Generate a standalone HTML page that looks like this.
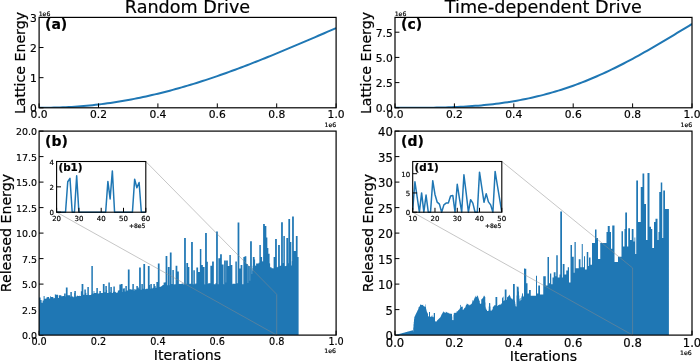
<!DOCTYPE html>
<html lang="en"><head><meta charset="utf-8"><title>Lattice and released energy</title>
<style>html,body{margin:0;padding:0;background:#fff}svg{display:block}</style></head>
<body>
<svg width="700" height="362" viewBox="0 0 700 362" font-family="'DejaVu Sans','Liberation Sans',sans-serif" fill="#000"><style>text{stroke:#000;stroke-width:0.18px}</style>
<rect width="700" height="362" fill="#fff"/>
<clipPath id="ca"><rect x="39.1" y="17.4" width="297.0" height="90.4"/></clipPath>
<g clip-path="url(#ca)">
<path d="M39.1 107.8L42.07 107.7L45.04 107.71L48.01 107.69L50.98 107.66L53.95 107.61L56.92 107.53L59.89 107.44L62.86 107.33L65.83 107.2L68.8 107.05L71.77 106.88L74.74 106.69L77.71 106.49L80.68 106.26L83.65 106.01L86.62 105.75L89.59 105.46L92.56 105.15L95.53 104.83L98.5 104.49L101.47 104.12L104.44 103.74L107.41 103.34L110.38 102.92L113.35 102.48L116.32 102.02L119.29 101.55L122.26 101.05L125.23 100.54L128.2 100.01L131.17 99.45L134.14 98.88L137.11 98.3L140.08 97.69L143.05 97.07L146.02 96.43L148.99 95.77L151.96 95.09L154.93 94.4L157.9 93.68L160.87 92.95L163.84 92.21L166.81 91.45L169.78 90.67L172.75 89.87L175.72 89.06L178.69 88.23L181.66 87.39L184.63 86.53L187.6 85.65L190.57 84.76L193.54 83.85L196.51 82.93L199.48 82L202.45 81.05L205.42 80.08L208.39 79.11L211.36 78.11L214.33 77.11L217.3 76.09L220.27 75.06L223.24 74.01L226.21 72.96L229.18 71.89L232.15 70.81L235.12 69.72L238.09 68.61L241.06 67.5L244.03 66.37L247 65.24L249.97 64.09L252.94 62.94L255.91 61.77L258.88 60.6L261.85 59.42L264.82 58.23L267.79 57.03L270.76 55.82L273.73 54.61L276.7 53.39L279.67 52.16L282.64 50.93L285.61 49.69L288.58 48.44L291.55 47.2L294.52 45.94L297.49 44.68L300.46 43.42L303.43 42.15L306.4 40.89L309.37 39.61L312.34 38.34L315.31 37.06L318.28 35.79L321.25 34.51L324.22 33.23L327.19 31.95L330.16 30.68L333.13 29.4L336.1 28.13" fill="none" stroke="#1f77b4" stroke-width="2.0" stroke-linejoin="round" stroke-linecap="butt"/>
</g>
<line x1="39.1" x2="39.1" y1="107.8" y2="103.4" stroke="#000" stroke-width="1.0"/>
<text x="39.1" y="117.73" font-size="10.7" text-anchor="middle">0.0</text>
<line x1="98.5" x2="98.5" y1="107.8" y2="103.4" stroke="#000" stroke-width="1.0"/>
<text x="98.5" y="117.73" font-size="10.7" text-anchor="middle">0.2</text>
<line x1="157.9" x2="157.9" y1="107.8" y2="103.4" stroke="#000" stroke-width="1.0"/>
<text x="157.9" y="117.73" font-size="10.7" text-anchor="middle">0.4</text>
<line x1="217.3" x2="217.3" y1="107.8" y2="103.4" stroke="#000" stroke-width="1.0"/>
<text x="217.3" y="117.73" font-size="10.7" text-anchor="middle">0.6</text>
<line x1="276.7" x2="276.7" y1="107.8" y2="103.4" stroke="#000" stroke-width="1.0"/>
<text x="276.7" y="117.73" font-size="10.7" text-anchor="middle">0.8</text>
<line x1="336.1" x2="336.1" y1="107.8" y2="103.4" stroke="#000" stroke-width="1.0"/>
<text x="336.1" y="117.73" font-size="10.7" text-anchor="middle">1.0</text>
<line x1="39.1" x2="43.5" y1="107.8" y2="107.8" stroke="#000" stroke-width="1.0"/>
<text x="36.9" y="112.47" font-size="10.7" text-anchor="end">0</text>
<line x1="39.1" x2="43.5" y1="77.67" y2="77.67" stroke="#000" stroke-width="1.0"/>
<text x="36.9" y="82.33" font-size="10.7" text-anchor="end">1</text>
<line x1="39.1" x2="43.5" y1="47.53" y2="47.53" stroke="#000" stroke-width="1.0"/>
<text x="36.9" y="52.2" font-size="10.7" text-anchor="end">2</text>
<line x1="39.1" x2="43.5" y1="17.4" y2="17.4" stroke="#000" stroke-width="1.0"/>
<text x="36.9" y="22.07" font-size="10.7" text-anchor="end">3</text>
<rect x="39.1" y="17.4" width="297" height="90.4" fill="none" stroke="#000" stroke-width="1.2"/>
<clipPath id="cc"><rect x="395.0" y="17.4" width="297.0" height="90.4"/></clipPath>
<g clip-path="url(#cc)">
<path d="M395 107.8L397.97 107.8L400.94 107.8L403.91 107.8L406.88 107.8L409.85 107.8L412.82 107.8L415.79 107.8L418.76 107.8L421.73 107.79L424.7 107.77L427.67 107.74L430.64 107.7L433.61 107.66L436.58 107.61L439.55 107.55L442.52 107.48L445.49 107.39L448.46 107.3L451.43 107.2L454.4 107.08L457.37 106.95L460.34 106.81L463.31 106.65L466.28 106.48L469.25 106.29L472.22 106.09L475.19 105.87L478.16 105.63L481.13 105.38L484.1 105.1L487.07 104.81L490.04 104.49L493.01 104.16L495.98 103.8L498.95 103.43L501.92 103.03L504.89 102.61L507.86 102.16L510.83 101.69L513.8 101.2L516.77 100.68L519.74 100.14L522.71 99.57L525.68 98.98L528.65 98.36L531.62 97.71L534.59 97.04L537.56 96.34L540.53 95.61L543.5 94.85L546.47 94.06L549.44 93.25L552.41 92.41L555.38 91.53L558.35 90.63L561.32 89.7L564.29 88.74L567.26 87.75L570.23 86.73L573.2 85.69L576.17 84.61L579.14 83.5L582.11 82.36L585.08 81.2L588.05 80L591.02 78.78L593.99 77.53L596.96 76.24L599.93 74.93L602.9 73.6L605.87 72.23L608.84 70.84L611.81 69.42L614.78 67.98L617.75 66.51L620.72 65.01L623.69 63.49L626.66 61.95L629.63 60.38L632.6 58.79L635.57 57.19L638.54 55.55L641.51 53.9L644.48 52.24L647.45 50.55L650.42 48.85L653.39 47.13L656.36 45.4L659.33 43.65L662.3 41.89L665.27 40.12L668.24 38.35L671.21 36.56L674.18 34.77L677.15 32.97L680.12 31.18L683.09 29.38L686.06 27.58L689.03 25.78L692 23.98" fill="none" stroke="#1f77b4" stroke-width="2.0" stroke-linejoin="round" stroke-linecap="butt"/>
</g>
<line x1="395" x2="395" y1="107.8" y2="103.4" stroke="#000" stroke-width="1.0"/>
<text x="395" y="117.73" font-size="10.7" text-anchor="middle">0.0</text>
<line x1="454.4" x2="454.4" y1="107.8" y2="103.4" stroke="#000" stroke-width="1.0"/>
<text x="454.4" y="117.73" font-size="10.7" text-anchor="middle">0.2</text>
<line x1="513.8" x2="513.8" y1="107.8" y2="103.4" stroke="#000" stroke-width="1.0"/>
<text x="513.8" y="117.73" font-size="10.7" text-anchor="middle">0.4</text>
<line x1="573.2" x2="573.2" y1="107.8" y2="103.4" stroke="#000" stroke-width="1.0"/>
<text x="573.2" y="117.73" font-size="10.7" text-anchor="middle">0.6</text>
<line x1="632.6" x2="632.6" y1="107.8" y2="103.4" stroke="#000" stroke-width="1.0"/>
<text x="632.6" y="117.73" font-size="10.7" text-anchor="middle">0.8</text>
<line x1="692" x2="692" y1="107.8" y2="103.4" stroke="#000" stroke-width="1.0"/>
<text x="692" y="117.73" font-size="10.7" text-anchor="middle">1.0</text>
<line x1="395.0" x2="399.4" y1="107.8" y2="107.8" stroke="#000" stroke-width="1.0"/>
<text x="392.8" y="112.47" font-size="10.7" text-anchor="end">0.0</text>
<line x1="395.0" x2="399.4" y1="82.6" y2="82.6" stroke="#000" stroke-width="1.0"/>
<text x="392.8" y="87.27" font-size="10.7" text-anchor="end">2.5</text>
<line x1="395.0" x2="399.4" y1="57.41" y2="57.41" stroke="#000" stroke-width="1.0"/>
<text x="392.8" y="62.08" font-size="10.7" text-anchor="end">5.0</text>
<line x1="395.0" x2="399.4" y1="32.21" y2="32.21" stroke="#000" stroke-width="1.0"/>
<text x="392.8" y="36.88" font-size="10.7" text-anchor="end">7.5</text>
<rect x="395.0" y="17.4" width="297" height="90.4" fill="none" stroke="#000" stroke-width="1.2"/>
<line x1="39.1" x2="39.1" y1="335.1" y2="330.7" stroke="#000" stroke-width="1.0"/>
<text x="39.1" y="345.27" font-size="9.7" text-anchor="middle">0.0</text>
<line x1="98.5" x2="98.5" y1="335.1" y2="330.7" stroke="#000" stroke-width="1.0"/>
<text x="98.5" y="345.27" font-size="9.7" text-anchor="middle">0.2</text>
<line x1="157.9" x2="157.9" y1="335.1" y2="330.7" stroke="#000" stroke-width="1.0"/>
<text x="157.9" y="345.27" font-size="9.7" text-anchor="middle">0.4</text>
<line x1="217.3" x2="217.3" y1="335.1" y2="330.7" stroke="#000" stroke-width="1.0"/>
<text x="217.3" y="345.27" font-size="9.7" text-anchor="middle">0.6</text>
<line x1="276.7" x2="276.7" y1="335.1" y2="330.7" stroke="#000" stroke-width="1.0"/>
<text x="276.7" y="345.27" font-size="9.7" text-anchor="middle">0.8</text>
<line x1="336.1" x2="336.1" y1="335.1" y2="330.7" stroke="#000" stroke-width="1.0"/>
<text x="336.1" y="345.27" font-size="9.7" text-anchor="middle">1.0</text>
<line x1="39.1" x2="43.5" y1="335.1" y2="335.1" stroke="#000" stroke-width="1.0"/>
<text x="36.9" y="339.29" font-size="9.45" text-anchor="end">0.0</text>
<line x1="39.1" x2="43.5" y1="309.6" y2="309.6" stroke="#000" stroke-width="1.0"/>
<text x="36.9" y="313.79" font-size="9.45" text-anchor="end">2.5</text>
<line x1="39.1" x2="43.5" y1="284.1" y2="284.1" stroke="#000" stroke-width="1.0"/>
<text x="36.9" y="288.29" font-size="9.45" text-anchor="end">5.0</text>
<line x1="39.1" x2="43.5" y1="258.6" y2="258.6" stroke="#000" stroke-width="1.0"/>
<text x="36.9" y="262.79" font-size="9.45" text-anchor="end">7.5</text>
<line x1="39.1" x2="43.5" y1="233.1" y2="233.1" stroke="#000" stroke-width="1.0"/>
<text x="36.9" y="237.29" font-size="9.45" text-anchor="end">10.0</text>
<line x1="39.1" x2="43.5" y1="207.6" y2="207.6" stroke="#000" stroke-width="1.0"/>
<text x="36.9" y="211.79" font-size="9.45" text-anchor="end">12.5</text>
<line x1="39.1" x2="43.5" y1="182.1" y2="182.1" stroke="#000" stroke-width="1.0"/>
<text x="36.9" y="186.29" font-size="9.45" text-anchor="end">15.0</text>
<line x1="39.1" x2="43.5" y1="156.6" y2="156.6" stroke="#000" stroke-width="1.0"/>
<text x="36.9" y="160.79" font-size="9.45" text-anchor="end">17.5</text>
<line x1="39.1" x2="43.5" y1="131.1" y2="131.1" stroke="#000" stroke-width="1.0"/>
<text x="36.9" y="135.29" font-size="9.45" text-anchor="end">20.0</text>
<path d="M39.1 335.1L39.1 297.42L40.6 297.42L40.6 299.92L41.6 299.92L41.6 302.77L42.6 302.77L42.6 300.41L43.6 300.41L43.6 296.11L43.85 296.11L43.85 296.1L44.1 296.1L44.1 296.08L44.35 296.08L44.35 296.07L44.6 296.07L44.6 298.68L44.85 298.68L44.85 298.66L45.1 298.66L45.1 298.65L45.35 298.65L45.35 298.64L45.6 298.64L45.6 298.63L45.85 298.63L45.85 298.61L46.1 298.61L46.1 298.6L46.35 298.6L46.35 298.59L46.6 298.59L46.6 297.17L46.85 297.17L46.85 297.16L47.1 297.16L47.1 297.15L47.35 297.15L47.35 297.13L47.6 297.13L47.6 297.12L47.85 297.12L47.85 297.11L48.1 297.11L48.1 297.09L48.35 297.09L48.35 297.08L48.6 297.08L48.6 297.07L48.85 297.07L48.85 297.06L49.1 297.06L49.1 298.45L49.35 298.45L49.35 298.43L49.6 298.43L49.6 298.42L49.85 298.42L49.85 298.41L50.1 298.41L50.1 296.18L50.35 296.18L50.35 296.16L50.6 296.16L50.6 296.15L50.85 296.15L50.85 296.94L51.1 296.94L51.1 296.93L51.35 296.93L51.35 296.92L51.6 296.92L51.6 296.9L51.85 296.9L51.85 297.09L52.1 297.09L52.1 297.07L52.35 297.07L52.35 297.06L52.6 297.06L52.6 297.05L52.85 297.05L52.85 297.03L53.1 297.03L53.1 297.02L53.35 297.02L53.35 298.18L53.6 298.18L53.6 298.16L53.85 298.16L53.85 298.15L54.1 298.15L54.1 298.14L54.35 298.14L54.35 298.12L54.6 298.12L54.6 298.11L54.85 298.11L54.85 294.28L55.1 294.28L55.1 294.27L55.35 294.27L55.35 294.25L55.6 294.25L55.6 294.79L55.85 294.79L55.85 294.78L56.1 294.78L56.1 294.77L56.35 294.77L56.35 294.75L56.6 294.75L56.6 294.74L56.85 294.74L56.85 294.73L57.1 294.73L57.1 294.72L57.35 294.72L57.35 294.7L57.6 294.7L57.6 294.69L57.85 294.69L57.85 294.68L58.1 294.68L58.1 297.97L58.35 297.97L58.35 297.95L58.6 297.95L58.6 297.94L58.85 297.94L58.85 295.31L59.1 295.31L59.1 295.29L59.35 295.29L59.35 295.28L59.6 295.28L59.6 295.27L59.85 295.27L59.85 295.26L60.1 295.26L60.1 295.24L60.35 295.24L60.35 295.23L60.6 295.23L60.6 295.22L60.85 295.22L60.85 295.21L61.1 295.21L61.1 295.19L61.35 295.19L61.35 296.23L61.6 296.23L61.6 296.21L61.85 296.21L61.85 296.2L62.1 296.2L62.1 296.15L62.35 296.15L62.35 296.13L62.6 296.13L62.6 296.12L62.85 296.12L62.85 296.11L63.1 296.11L63.1 296.1L63.35 296.1L63.35 296.08L63.6 296.08L63.6 296.07L63.85 296.07L63.85 296.06L64.1 296.06L64.1 293.5L64.35 293.5L64.35 293.49L64.6 293.49L64.6 293.48L64.85 293.48L64.85 293.47L65.1 293.47L65.1 293.45L65.35 293.45L65.35 293.43L65.6 293.43L65.6 296.4L65.85 296.4L65.85 287.4L67.6 287.4L67.6 295.29L67.85 295.29L67.85 295.27L68.1 295.27L68.1 295.25L68.35 295.25L68.35 295.24L68.6 295.24L68.6 295.22L68.85 295.22L68.85 295.2L69.1 295.2L69.1 295.18L69.35 295.18L69.35 295.17L69.6 295.17L69.6 295.15L69.85 295.15L69.85 295.13L70.1 295.13L70.1 296.7L70.35 296.7L70.35 292L71.85 292L71.85 296.58L72.1 296.58L72.1 296.56L72.35 296.56L72.35 296.54L72.6 296.54L72.6 296.53L72.85 296.53L72.85 296.51L73.1 296.51L73.1 296.49L73.35 296.49L73.35 297.21L73.6 297.21L73.6 297.19L73.85 297.19L73.85 297.18L74.1 297.18L74.1 293.05L74.35 293.05L74.35 291L75.85 291L75.85 296.5L76.1 296.5L76.1 296.47L76.35 296.47L76.35 296.44L76.6 296.44L76.6 296.41L76.85 296.41L76.85 295.48L77.1 295.48L77.1 295.45L77.35 295.45L77.35 295.42L77.6 295.42L77.6 296.11L77.85 296.11L77.85 296.08L78.1 296.08L78.1 296.05L78.35 296.05L78.35 296.02L78.6 296.02L78.6 295.99L78.85 295.99L78.85 295.96L79.1 295.96L79.1 295.77L79.35 295.77L79.35 295.74L79.6 295.74L79.6 295.71L79.85 295.71L79.85 296.15L80.1 296.15L80.1 296.12L80.35 296.12L80.35 296.09L80.6 296.09L80.6 296.06L80.85 296.06L80.85 291.35L81.1 291.35L81.1 291.32L81.35 291.32L81.35 291.29L81.6 291.29L81.6 284L83.35 284L83.35 294.75L83.6 294.75L83.6 294.72L83.85 294.72L83.85 294.69L84.1 294.69L84.1 294.66L84.35 294.66L84.35 289.4L85.85 289.4L85.85 292.88L86.1 292.88L86.1 292.85L86.35 292.85L86.35 295.1L86.6 295.1L86.6 295.07L86.85 295.07L86.85 295.03L87.1 295.03L87.1 295L87.35 295L87.35 287L88.85 287L88.85 294.63L89.1 294.63L89.1 295.15L89.35 295.15L89.35 295.12L89.6 295.12L89.6 295.08L89.85 295.08L89.85 295.05L90.1 295.05L90.1 295.01L90.35 295.01L90.35 294.98L90.6 294.98L90.6 294.94L90.85 294.94L90.85 294.91L91.1 294.91L91.1 294.2L91.35 294.2L91.35 266L92.85 266L92.85 293.61L93.1 293.61L93.1 293.57L93.35 293.57L93.35 293.54L93.6 293.54L93.6 291.11L93.85 291.11L93.85 291.08L94.1 291.08L94.1 291.04L94.35 291.04L94.35 293.09L94.6 293.09L94.6 293.06L94.85 293.06L94.85 293.02L95.1 293.02L95.1 292.99L95.35 292.99L95.35 292.95L95.6 292.95L95.6 292.92L95.85 292.92L95.85 292.88L96.1 292.88L96.1 292.85L96.35 292.85L96.35 288L97.85 288L97.85 293.53L98.1 293.53L98.1 293.49L98.35 293.49L98.35 293.46L98.6 293.46L98.6 293.42L98.85 293.42L98.85 293.39L99.1 293.39L99.1 293.35L99.35 293.35L99.35 291L100.85 291L100.85 293.08L101.1 293.08L101.1 293.04L101.35 293.04L101.35 293.01L101.6 293.01L101.6 292.97L101.85 292.97L101.85 293.12L102.1 293.12L102.1 293.08L102.35 293.08L102.35 293.05L102.6 293.05L102.6 293.01L102.85 293.01L102.85 284L104.6 284L104.6 292.21L104.85 292.21L104.85 292.18L105.1 292.18L105.1 292.16L105.35 292.16L105.35 286L106.85 286L106.85 289.91L107.1 289.91L107.1 293.01L108.35 293.01L108.35 282.4L109.85 282.4L109.85 292.26L110.35 292.26L110.35 287L111.85 287L111.85 292.97L112.85 292.97L112.85 291.8L113.35 291.8L113.35 286.4L114.85 286.4L114.85 291.89L115.1 291.89L115.1 291.88L115.35 291.88L115.35 291.85L115.6 291.85L115.6 291.82L115.85 291.82L115.85 292.74L116.1 292.74L116.1 292.71L116.35 292.71L116.35 292.68L116.6 292.68L116.6 292.65L116.85 292.65L116.85 292.63L117.1 292.63L117.1 292.6L117.35 292.6L117.35 292.57L117.6 292.57L117.6 292.54L117.85 292.54L117.85 290.47L118.1 290.47L118.1 290.44L118.35 290.44L118.35 290.41L118.6 290.41L118.6 290.39L118.85 290.39L118.85 290.36L119.1 290.36L119.1 290.33L119.35 290.33L119.35 284.6L120.85 284.6L120.85 284L122.6 284L122.6 291.89L122.85 291.89L122.85 288.5L123.1 288.5L123.1 288.47L123.35 288.47L123.35 288.45L123.6 288.45L123.6 288.42L123.85 288.42L123.85 288.39L124.1 288.39L124.1 288.36L124.35 288.36L124.35 288.34L124.6 288.34L124.6 288.31L124.85 288.31L124.85 291.5L125.1 291.5L125.1 291.47L125.35 291.47L125.35 286L126.85 286L126.85 290.52L127.1 290.52L127.1 290.49L127.35 290.49L127.35 290.45L127.6 290.45L127.6 290.41L127.85 290.41L127.85 269.4L129.6 269.4L129.6 289.32L129.85 289.32L129.85 289.28L130.1 289.28L130.1 289.25L130.35 289.25L130.35 289.21L130.6 289.21L130.6 289.17L130.85 289.17L130.85 289.13L131.1 289.13L131.1 289.1L131.35 289.1L131.35 289.74L131.6 289.74L131.6 289.7L131.85 289.7L131.85 289.66L132.1 289.66L132.1 289.62L132.35 289.62L132.35 284L133.85 284L133.85 290.47L134.1 290.47L134.1 290.43L134.35 290.43L134.35 289.07L134.6 289.07L134.6 289.03L134.85 289.03L134.85 288.99L135.1 288.99L135.1 288.96L135.35 288.96L135.35 289.66L135.6 289.66L135.6 289.63L135.85 289.63L135.85 289.61L136.1 289.61L136.1 289.58L136.35 289.58L136.35 286L137.85 286L137.85 287.63L138.1 287.63L138.1 287.61L138.35 287.61L138.35 287.58L138.6 287.58L138.6 287.56L138.85 287.56L138.85 289.24L139.1 289.24L139.1 267.4L140.85 267.4L140.85 289.83L141.1 289.83L141.1 289.8L141.35 289.8L141.35 284L142.85 284L142.85 288.68L143.1 288.68L143.1 288.66L143.35 288.66L143.35 264L145.1 264L145.1 289.17L145.35 289.17L145.35 289.14L145.6 289.14L145.6 289.1L145.85 289.1L145.85 288.9L146.1 288.9L146.1 288.86L146.35 288.86L146.35 288.82L146.6 288.82L146.6 288.79L146.85 288.79L146.85 288.75L147.1 288.75L147.1 288.71L147.35 288.71L147.35 288.67L147.6 288.67L147.6 288.64L147.85 288.64L147.85 266L149.6 266L149.6 285.07L149.85 285.07L149.85 285.03L150.1 285.03L150.1 288.72L150.35 288.72L150.35 284L151.85 284L151.85 288.46L152.1 288.46L152.1 288.42L152.35 288.42L152.35 288.38L152.6 288.38L152.6 287.77L152.85 287.77L152.85 287.73L153.1 287.73L153.1 287.69L153.35 287.69L153.35 284L154.85 284L154.85 285.98L155.1 285.98L155.1 285.94L155.35 285.94L155.35 285.9L155.6 285.9L155.6 287.74L155.85 287.74L155.85 287.71L156.1 287.71L156.1 287.67L156.35 287.67L156.35 282L157.85 282L157.85 263.6L159.6 263.6L159.6 286.89L159.85 286.89L159.85 286.85L160.1 286.85L160.1 286.81L160.35 286.81L160.35 286.78L160.6 286.78L160.6 286.74L160.85 286.74L160.85 286.7L161.1 286.7L161.1 286.19L161.35 286.19L161.35 286.15L161.6 286.15L161.6 286.11L161.85 286.11L161.85 286.08L162.1 286.08L162.1 286.04L162.35 286.04L162.35 285L163.6 285L163.6 282.58L163.85 282.58L163.85 282.54L164.1 282.54L164.1 282.5L164.35 282.5L164.35 282.46L164.6 282.46L164.6 282.43L164.85 282.43L164.85 282.39L165.1 282.39L165.1 282.35L165.35 282.35L165.35 282.29L165.6 282.29L165.6 256L167.35 256L167.35 285.26L167.6 285.26L167.6 285.21L167.85 285.21L167.85 267L169.6 267L169.6 285.37L169.85 285.37L169.85 252.6L171.6 252.6L171.6 284.01L171.85 284.01L171.85 283.96L172.1 283.96L172.1 283.92L172.35 283.92L172.35 270L173.85 270L173.85 284.4L174.1 284.4L174.1 284.38L174.35 284.38L174.35 284.37L174.6 284.37L174.6 284.35L174.85 284.35L174.85 284.34L175.1 284.34L175.1 284.32L175.35 284.32L175.35 284.31L175.6 284.31L175.6 265.7L177.35 265.7L177.35 271.4L178.85 271.4L178.85 283.91L179.1 283.91L179.1 283.89L179.35 283.89L179.35 283.88L179.6 283.88L179.6 283.86L179.85 283.86L179.85 283.85L180.1 283.85L180.1 283.92L181.6 283.92L181.6 283.4L183.6 283.4L183.6 284.39L184.1 284.39L184.1 238L185.85 238L185.85 283.75L186.35 283.75L186.35 262.9L188.1 262.9L188.1 266.9L189.35 266.9L189.35 283.91L189.6 283.91L189.6 283.72L191.1 283.72L191.1 242L192.85 242L192.85 284.3L193.35 284.3L193.35 270.3L194.85 270.3L194.85 284.3L195.35 284.3L195.35 283.47L196.35 283.47L196.35 267.4L198.1 267.4L198.1 272L199.85 272L199.85 249L201.35 249L201.35 265L202.85 265L202.85 266.9L204.6 266.9L204.6 284.15L204.85 284.15L204.85 284.39L205.1 284.39L205.1 233L206.85 233L206.85 261.7L207.85 261.7L207.85 284.09L208.35 284.09L208.35 283.02L209.1 283.02L209.1 283.29L210.35 283.29L210.35 265.7L212.1 265.7L212.1 261.5L213.85 261.5L213.85 284.21L215.6 284.21L215.6 282.97L216.1 282.97L216.1 231.6L217.85 231.6L217.85 284.25L218.35 284.25L218.35 258.3L220.1 258.3L220.1 254.3L221.85 254.3L221.85 264.6L223.6 264.6L223.6 284L223.85 284L223.85 284.39L224.1 284.39L224.1 260.6L225.85 260.6L225.85 282.52L226.1 282.52L226.1 260.6L227.85 260.6L227.85 266L229.35 266L229.35 255L230.85 255L230.85 265L232.35 265L232.35 284.34L232.6 284.34L232.6 283.78L235.1 283.78L235.1 284.1L235.35 284.1L235.35 261.5L236.85 261.5L236.85 283.16L237.6 283.16L237.6 222.4L239.35 222.4L239.35 268.5L240.6 268.5L240.6 265L242.35 265L242.35 284.22L243.1 284.22L243.1 284.26L243.35 284.26L243.35 257L244.6 257L244.6 256.2L246.35 256.2L246.35 264L247.85 264L247.85 282.89L248.1 282.89L248.1 266L249.85 266L249.85 280.85L250.1 280.85L250.1 241.3L251.85 241.3L251.85 273.97L252.1 273.97L252.1 270.47L252.35 270.47L252.35 268L252.6 268L252.6 265.63L252.85 265.63L252.85 257L254.6 257L254.6 259.53L254.85 259.53L254.85 259.55L255.1 259.55L255.1 265.61L255.35 265.61L255.35 265.62L255.6 265.62L255.6 265.64L255.85 265.64L255.85 265.65L256.1 265.65L256.1 263.43L256.35 263.43L256.35 263.45L256.6 263.45L256.6 263.46L256.85 263.46L256.85 263.48L257.1 263.48L257.1 263.49L257.35 263.49L257.35 263.51L257.6 263.51L257.6 263.53L257.85 263.53L257.85 263.54L258.1 263.54L258.1 263.56L258.35 263.56L258.35 263.57L258.6 263.57L258.6 262.82L258.85 262.82L258.85 262.83L259.1 262.83L259.1 262.85L259.35 262.85L259.35 245L260.85 245L260.85 257L262.1 257L262.1 261.14L262.35 261.14L262.35 261.28L262.6 261.28L262.6 261.42L262.85 261.42L262.85 261.56L263.1 261.56L263.1 223.9L264.85 223.9L264.85 226.1L266.35 226.1L266.35 237.6L267.35 237.6L267.35 248L268.35 248L268.35 253.7L269.6 253.7L269.6 263.27L269.85 263.27L269.85 263.41L270.1 263.41L270.1 267.23L270.35 267.23L270.35 267.26L270.6 267.26L270.6 267.3L270.85 267.3L270.85 267.33L271.1 267.33L271.1 267.37L271.35 267.37L271.35 267.4L271.6 267.4L271.6 268.14L271.85 268.14L271.85 268.18L272.1 268.18L272.1 268.21L272.35 268.21L272.35 268.25L272.6 268.25L272.6 268.28L272.85 268.28L272.85 268.32L273.1 268.32L273.1 268.36L273.35 268.36L273.35 268.39L273.6 268.39L273.6 257L275.1 257L275.1 239L276.85 239L276.85 267.25L277.1 267.25L277.1 267.24L277.35 267.24L277.35 267.14L277.6 267.14L277.6 266.73L277.85 266.73L277.85 266.63L278.1 266.63L278.1 245L279.85 245L279.85 265.91L280.1 265.91L280.1 265.82L280.35 265.82L280.35 265.72L280.6 265.72L280.6 265.63L280.85 265.63L280.85 265.53L281.1 265.53L281.1 222.3L282.85 222.3L282.85 263.16L283.1 263.16L283.1 263.07L283.35 263.07L283.35 236.1L284.85 236.1L284.85 266.3L285.1 266.3L285.1 266.21L285.35 266.21L285.35 266.12L285.6 266.12L285.6 266.03L285.85 266.03L285.85 265.94L286.1 265.94L286.1 265.85L286.35 265.85L286.35 238.1L288.1 238.1L288.1 263.17L288.35 263.17L288.35 218.9L290.1 218.9L290.1 242L291.35 242L291.35 265.57L291.6 265.57L291.6 265.48L291.85 265.48L291.85 261.16L292.1 261.16L292.1 216.4L293.85 216.4L293.85 251L295.85 251L295.85 236.1L297.6 236.1L297.6 257L298.6 257L298.6 335.1Z" fill="#1f77b4"/>
<path d="M145.8 161.5L276.7 294.3L276.7 335.1L56.6 212.2" fill="none" stroke="#8a8a8a" stroke-opacity="0.62" stroke-width="0.8"/>
<rect x="39.1" y="131.1" width="297" height="204" fill="none" stroke="#000" stroke-width="1.2"/>
<rect x="56.6" y="161.5" width="89.2" height="50.7" fill="#fff"/>
<clipPath id="cb1"><rect x="56.6" y="161.5" width="89.2" height="51.7"/></clipPath>
<g clip-path="url(#cb1)">
<path d="M56.6 212.2L65.52 212.2L67.75 181.78L69.98 178.36L72.21 212.2L74.44 212.2L76.67 175.7L78.9 212.2L105.66 212.2L107.89 181.4L110.12 198.89L112.35 170.88L114.58 212.2L132.42 212.2L134.65 179.25L136.88 187.74L139.11 182.54L141.34 212.2L145.8 212.2" fill="none" stroke="#1f77b4" stroke-width="1.5" stroke-linejoin="round" stroke-linecap="butt"/>
</g>
<line x1="56.6" x2="56.6" y1="212.2" y2="207.8" stroke="#000" stroke-width="1.0"/>
<text x="56.6" y="220.52" font-size="7.0" text-anchor="middle">20</text>
<line x1="78.9" x2="78.9" y1="212.2" y2="207.8" stroke="#000" stroke-width="1.0"/>
<text x="78.9" y="220.52" font-size="7.0" text-anchor="middle">30</text>
<line x1="101.2" x2="101.2" y1="212.2" y2="207.8" stroke="#000" stroke-width="1.0"/>
<text x="101.2" y="220.52" font-size="7.0" text-anchor="middle">40</text>
<line x1="123.5" x2="123.5" y1="212.2" y2="207.8" stroke="#000" stroke-width="1.0"/>
<text x="123.5" y="220.52" font-size="7.0" text-anchor="middle">50</text>
<line x1="145.8" x2="145.8" y1="212.2" y2="207.8" stroke="#000" stroke-width="1.0"/>
<text x="145.8" y="220.52" font-size="7.0" text-anchor="middle">60</text>
<line x1="56.6" x2="61" y1="212.2" y2="212.2" stroke="#000" stroke-width="1.0"/>
<text x="54" y="215.46" font-size="7.0" text-anchor="end">0</text>
<line x1="56.6" x2="61" y1="186.85" y2="186.85" stroke="#000" stroke-width="1.0"/>
<text x="54" y="190.11" font-size="7.0" text-anchor="end">2</text>
<line x1="56.6" x2="61" y1="161.5" y2="161.5" stroke="#000" stroke-width="1.0"/>
<text x="54" y="164.76" font-size="7.0" text-anchor="end">4</text>
<rect x="56.6" y="161.5" width="89.2" height="50.7" fill="none" stroke="#000" stroke-width="1.1"/>
<text x="145.5" y="228.4" font-size="6.1" text-anchor="end">+8e5</text>
<text x="58.4" y="171.1" font-size="10.4" font-weight="bold">(b1)</text>
<line x1="395" x2="395" y1="335.1" y2="330.7" stroke="#000" stroke-width="1.0"/>
<text x="395" y="347.32" font-size="11.6" text-anchor="middle">0.0</text>
<line x1="454.4" x2="454.4" y1="335.1" y2="330.7" stroke="#000" stroke-width="1.0"/>
<text x="454.4" y="347.32" font-size="11.6" text-anchor="middle">0.2</text>
<line x1="513.8" x2="513.8" y1="335.1" y2="330.7" stroke="#000" stroke-width="1.0"/>
<text x="513.8" y="347.32" font-size="11.6" text-anchor="middle">0.4</text>
<line x1="573.2" x2="573.2" y1="335.1" y2="330.7" stroke="#000" stroke-width="1.0"/>
<text x="573.2" y="347.32" font-size="11.6" text-anchor="middle">0.6</text>
<line x1="632.6" x2="632.6" y1="335.1" y2="330.7" stroke="#000" stroke-width="1.0"/>
<text x="632.6" y="347.32" font-size="11.6" text-anchor="middle">0.8</text>
<line x1="692" x2="692" y1="335.1" y2="330.7" stroke="#000" stroke-width="1.0"/>
<text x="692" y="347.32" font-size="11.6" text-anchor="middle">1.0</text>
<line x1="395.0" x2="399.4" y1="335.1" y2="335.1" stroke="#000" stroke-width="1.0"/>
<text x="392.8" y="340.11" font-size="11.6" text-anchor="end">0</text>
<line x1="395.0" x2="399.4" y1="309.6" y2="309.6" stroke="#000" stroke-width="1.0"/>
<text x="392.8" y="314.61" font-size="11.6" text-anchor="end">5</text>
<line x1="395.0" x2="399.4" y1="284.1" y2="284.1" stroke="#000" stroke-width="1.0"/>
<text x="392.8" y="289.11" font-size="11.6" text-anchor="end">10</text>
<line x1="395.0" x2="399.4" y1="258.6" y2="258.6" stroke="#000" stroke-width="1.0"/>
<text x="392.8" y="263.61" font-size="11.6" text-anchor="end">15</text>
<line x1="395.0" x2="399.4" y1="233.1" y2="233.1" stroke="#000" stroke-width="1.0"/>
<text x="392.8" y="238.11" font-size="11.6" text-anchor="end">20</text>
<line x1="395.0" x2="399.4" y1="207.6" y2="207.6" stroke="#000" stroke-width="1.0"/>
<text x="392.8" y="212.61" font-size="11.6" text-anchor="end">25</text>
<line x1="395.0" x2="399.4" y1="182.1" y2="182.1" stroke="#000" stroke-width="1.0"/>
<text x="392.8" y="187.11" font-size="11.6" text-anchor="end">30</text>
<line x1="395.0" x2="399.4" y1="156.6" y2="156.6" stroke="#000" stroke-width="1.0"/>
<text x="392.8" y="161.61" font-size="11.6" text-anchor="end">35</text>
<line x1="395.0" x2="399.4" y1="131.1" y2="131.1" stroke="#000" stroke-width="1.0"/>
<text x="392.8" y="136.11" font-size="11.6" text-anchor="end">40</text>
<path d="M395 335.1L395 335.1L395.25 335.1L395.25 335.03L395.5 335.03L395.5 334.96L395.75 334.96L395.75 334.89L396 334.89L396 334.83L396.25 334.83L396.25 334.76L396.5 334.76L396.5 334.69L396.75 334.69L396.75 334.62L397 334.62L397 334.55L397.25 334.55L397.25 334.48L397.5 334.48L397.5 334.42L397.75 334.42L397.75 334.35L398 334.35L398 334.28L398.25 334.28L398.25 334.21L398.5 334.21L398.5 334.14L398.75 334.14L398.75 334.07L399 334.07L399 334.01L399.25 334.01L399.25 333.94L399.5 333.94L399.5 333.87L399.75 333.87L399.75 333.8L400 333.8L400 333.73L400.25 333.73L400.25 333.66L400.5 333.66L400.5 333.59L400.75 333.59L400.75 333.53L401 333.53L401 333.46L401.25 333.46L401.25 333.39L401.5 333.39L401.5 333.32L401.75 333.32L401.75 333.25L402 333.25L402 333.18L402.25 333.18L402.25 333.12L402.5 333.12L402.5 333.05L402.75 333.05L402.75 332.98L403 332.98L403 332.91L403.25 332.91L403.25 332.84L403.5 332.84L403.5 332.77L403.75 332.77L403.75 332.7L404 332.7L404 332.64L404.25 332.64L404.25 332.57L404.5 332.57L404.5 332.5L404.75 332.5L404.75 332.43L405 332.43L405 332.36L405.25 332.36L405.25 332.29L405.5 332.29L405.5 332.23L405.75 332.23L405.75 332.16L406 332.16L406 332.09L406.25 332.09L406.25 332.02L406.5 332.02L406.5 331.95L406.75 331.95L406.75 331.88L407 331.88L407 331.82L407.25 331.82L407.25 331.75L407.5 331.75L407.5 331.68L407.75 331.68L407.75 331.61L408 331.61L408 331.54L408.25 331.54L408.25 331.47L408.5 331.47L408.5 331.4L408.75 331.4L408.75 331.34L409 331.34L409 331.27L409.25 331.27L409.25 331.2L409.5 331.2L409.5 331.13L409.75 331.13L409.75 331.06L410 331.06L410 330.99L410.25 330.99L410.25 330.93L410.5 330.93L410.5 330.86L410.75 330.86L410.75 330.79L411 330.79L411 330.72L411.25 330.72L411.25 330.65L411.5 330.65L411.5 330.58L411.75 330.58L411.75 330.51L412 330.51L412 330.45L412.25 330.45L412.25 330.38L412.5 330.38L412.5 330.31L412.75 330.31L412.75 330.24L413 330.24L413 331.57L413.25 331.57L413.25 327.4L413.5 327.4L413.5 324.29L413.75 324.29L413.75 321.79L414 321.79L414 319.29L414.25 319.29L414.25 317.24L414.5 317.24L414.5 316.66L414.75 316.66L414.75 316.07L415 316.07L415 315.68L415.25 315.68L415.25 315.1L415.5 315.1L415.5 314.51L415.75 314.51L415.75 313.93L416 313.93L416 313.57L416.25 313.57L416.25 312.99L416.5 312.99L416.5 312.41L416.75 312.41L416.75 311.96L417 311.96L417 311.38L417.25 311.38L417.25 310.8L417.5 310.8L417.5 310.21L417.75 310.21L417.75 310.14L418 310.14L418 309.44L418.25 309.44L418.25 308.74L418.5 308.74L418.5 307.56L418.75 307.56L418.75 306.94L419 306.94L419 306.77L419.25 306.77L419.25 306.6L419.5 306.6L419.5 306.44L419.75 306.44L419.75 306.27L420 306.27L420 304.65L420.25 304.65L420.25 304.49L420.5 304.49L420.5 304.35L420.75 304.35L420.75 304.97L421 304.97L421 304.9L421.25 304.9L421.25 304.83L421.5 304.83L421.5 304.76L421.75 304.76L421.75 305.11L422 305.11L422 305.04L422.25 305.04L422.25 304.97L422.5 304.97L422.5 304.9L422.75 304.9L422.75 304.83L423 304.83L423 304.76L423.25 304.76L423.25 305.98L423.5 305.98L423.5 306.05L423.75 306.05L423.75 306.15L424 306.15L424 306.25L424.25 306.25L424.25 306.44L424.5 306.44L424.5 306.54L424.75 306.54L424.75 306.64L425 306.64L425 306.73L425.25 306.73L425.25 304.08L425.5 304.08L425.5 305.31L425.75 305.31L425.75 307.21L426 307.21L426 308.8L426.25 308.8L426.25 309.8L426.5 309.8L426.5 310.8L426.75 310.8L426.75 311.73L427 311.73L427 312.23L427.25 312.23L427.25 312.69L427.5 312.69L427.5 313.19L427.75 313.19L427.75 313.69L428 313.69L428 316.07L428.25 316.07L428.25 316.29L428.5 316.29L428.5 316.51L428.75 316.51L428.75 316.73L429 316.73L429 311.9L430 311.9L430 316.7L430.25 316.7L430.25 316.74L430.5 316.74L430.5 316.77L430.75 316.77L430.75 316.81L431 316.81L431 316.43L431.25 316.43L431.25 316.47L431.5 316.47L431.5 316.51L431.75 316.51L431.75 315.54L432 315.54L432 315.57L432.25 315.57L432.25 315.61L432.5 315.61L432.5 316.9L432.75 316.9L432.75 317.03L433 317.03L433 317.15L433.25 317.15L433.25 317.28L433.5 317.28L433.5 316.46L433.75 316.46L433.75 313.1L435 313.1L435 321.07L435.5 321.07L435.5 321.87L436 321.87L436 321.73L436.25 321.73L436.25 321.48L436.5 321.48L436.5 321.23L436.75 321.23L436.75 320.98L437 320.98L437 320.42L437.25 320.42L437.25 320.17L437.5 320.17L437.5 319.92L437.75 319.92L437.75 319.67L438 319.67L438 319.42L438.25 319.42L438.25 319.17L438.5 319.17L438.5 318.92L438.75 318.92L438.75 318.67L439 318.67L439 318.62L439.25 318.62L439.25 318.37L439.5 318.37L439.5 318.12L439.75 318.12L439.75 317.87L440 317.87L440 317.62L440.25 317.62L440.25 317.37L440.5 317.37L440.5 316.79L440.75 316.79L440.75 316.21L441 316.21L441 315.63L441.25 315.63L441.25 315.04L441.5 315.04L441.5 314.46L441.75 314.46L441.75 313.88L442 313.88L442 313.73L442.25 313.73L442.25 313.25L442.5 313.25L442.5 312.92L442.75 312.92L442.75 312.29L443 312.29L443 311.96L443.25 311.96L443.25 311.62L443.5 311.62L443.5 311.29L443.75 311.29L443.75 312.22L444 312.22L444 312.16L444.25 312.16L444.25 312.29L444.5 312.29L444.5 312.42L444.75 312.42L444.75 312.56L445 312.56L445 312.69L445.25 312.69L445.25 312.82L445.5 312.82L445.5 312.96L445.75 312.96L445.75 311.66L446 311.66L446 311.78L446.25 311.78L446.25 311.9L446.5 311.9L446.5 312.24L446.75 312.24L446.75 312.36L447 312.36L447 312.47L447.25 312.47L447.25 312.59L447.5 312.59L447.5 312.66L447.75 312.66L447.75 312.72L448 312.72L448 312.79L448.25 312.79L448.25 312.85L448.5 312.85L448.5 313.26L448.75 313.26L448.75 313.32L449 313.32L449 313.38L449.25 313.38L449.25 313.44L449.5 313.44L449.5 313.51L449.75 313.51L449.75 313.57L450 313.57L450 313.63L450.25 313.63L450.25 313.69L450.5 313.69L450.5 313.61L450.75 313.61L450.75 313.68L451 313.68L451 313.74L451.25 313.74L451.25 313.8L451.5 313.8L451.5 313.86L451.75 313.86L451.75 313.93L452 313.93L452 316.6L452.25 316.6L452.25 319.96L452.5 319.96L452.5 320.1L452.75 320.1L452.75 320.24L453 320.24L453 320.2L453.25 320.2L453.25 319.89L453.5 319.89L453.5 314.89L453.75 314.89L453.75 313.35L454 313.35L454 313.18L454.25 313.18L454.25 313.01L454.5 313.01L454.5 312.85L454.75 312.85L454.75 312.68L455 312.68L455 312.99L455.25 312.99L455.25 312.82L455.5 312.82L455.5 312.78L455.75 312.78L455.75 312.75L456 312.75L456 312.73L456.25 312.73L456.25 312.7L456.5 312.7L456.5 311.55L456.75 311.55L456.75 311.52L457 311.52L457 311.5L457.25 311.5L457.25 311.47L457.5 311.47L457.5 311.11L457.75 311.11L457.75 310.89L458 310.89L458 310.59L458.25 310.59L458.25 310.29L458.5 310.29L458.5 309.99L458.75 309.99L458.75 309.69L459 309.69L459 309.39L459.25 309.39L459.25 309.09L459.5 309.09L459.5 309.47L459.75 309.47L459.75 308.37L460 308.37L460 307.97L460.25 307.97L460.25 304.87L460.5 304.87L460.5 305L460.75 305L460.75 305.12L461 305.12L461 306.16L461.25 306.16L461.25 306.97L461.5 306.97L461.5 306.9L461.75 306.9L461.75 306.83L462 306.83L462 306.76L462.25 306.76L462.25 306.69L462.5 306.69L462.5 306.62L462.75 306.62L462.75 309.89L463 309.89L463 309.82L463.25 309.82L463.25 309.75L463.5 309.75L463.5 309.39L463.75 309.39L463.75 308.97L464 308.97L464 308.55L464.25 308.55L464.25 308.14L464.5 308.14L464.5 307.72L464.75 307.72L464.75 308.1L465 308.1L465 307.69L465.25 307.69L465.25 306.99L465.5 306.99L465.5 306.29L465.75 306.29L465.75 305.59L466 305.59L466 304.89L466.25 304.89L466.25 304.55L466.5 304.55L466.5 304.68L466.75 304.68L466.75 303.6L467 303.6L467 303.74L467.25 303.74L467.25 303.87L467.5 303.87L467.5 304L467.75 304L467.75 304.14L468 304.14L468 304.26L468.25 304.26L468.25 304.39L468.5 304.39L468.5 304.51L468.75 304.51L468.75 305.23L469 305.23L469 305.36L469.25 305.36L469.25 305.48L469.5 305.48L469.5 304.7L469.75 304.7L469.75 304.82L470 304.82L470 304.95L470.25 304.95L470.25 304.8L470.5 304.8L470.5 304.47L470.75 304.47L470.75 304.13L471 304.13L471 304.34L471.25 304.34L471.25 304L471.5 304L471.5 303.67L471.75 303.67L471.75 303.34L472 303.34L472 302.58L472.25 302.58L472.25 301.51L472.5 301.51L472.5 300.44L472.75 300.44L472.75 299.94L473 299.94L473 300.34L473.25 300.34L473.25 300.81L473.5 300.81L473.5 301.28L473.75 301.28L473.75 299.83L474 299.83L474 299.21L474.25 299.21L474.25 298.58L474.5 298.58L474.5 297.96L474.75 297.96L474.75 297.35L475 297.35L475 296.85L475.25 296.85L475.25 296.35L475.5 296.35L475.5 295.85L475.75 295.85L475.75 297.39L476 297.39L476 297.12L476.25 297.12L476.25 297.01L476.5 297.01L476.5 296.91L476.75 296.91L476.75 295.7L477 295.7L477 295.59L477.25 295.59L477.25 295.56L477.5 295.56L477.5 296.35L477.75 296.35L477.75 296.09L478 296.09L478 296.87L478.25 296.87L478.25 297.64L478.5 297.64L478.5 298.39L478.75 298.39L478.75 299.14L479 299.14L479 299.89L479.25 299.89L479.25 300.64L479.5 300.64L479.5 300.96L479.75 300.96L479.75 303.37L480 303.37L480 303.62L480.25 303.62L480.25 303.87L480.5 303.87L480.5 303.97L480.75 303.97L480.75 303.72L481 303.72L481 303.47L481.25 303.47L481.25 299.57L481.5 299.57L481.5 299.32L481.75 299.32L481.75 299.07L482 299.07L482 298.82L482.25 298.82L482.25 298.57L482.5 298.57L482.5 298.32L482.75 298.32L482.75 298.01L483 298.01L483 297.39L483.25 297.39L483.25 296.89L483.5 296.89L483.5 296.26L483.75 296.26L483.75 295.64L484 295.64L484 295.58L484.25 295.58L484.25 295.96L484.5 295.96L484.5 296.33L484.75 296.33L484.75 296.71L485 296.71L485 297.08L485.25 297.08L485.25 302.4L485.5 302.4L485.5 306.75L485.75 306.75L485.75 308.49L486.25 308.49L486.25 309.73L487 309.73L487 311.07L488.5 311.07L488.5 309.74L488.75 309.74L488.75 306.41L489 306.41L489 303.12L489.75 303.12L489.75 303.19L490.25 303.19L490.25 306.53L490.5 306.53L490.5 309.86L490.75 309.86L490.75 311.07L491 311.07L491 310.86L491.25 310.86L491.25 310.65L491.5 310.65L491.5 310.44L491.75 310.44L491.75 309.86L492 309.86L492 309.65L492.25 309.65L492.25 309.44L492.5 309.44L492.5 309.23L492.75 309.23L492.75 307.24L493 307.24L493 307.03L493.25 307.03L493.25 306.68L493.5 306.68L493.5 306.33L493.75 306.33L493.75 305.98L494 305.98L494 305.62L494.25 305.62L494.25 305.42L494.5 305.42L494.5 305.21L495.5 305.21L495.5 297L497.25 297L497.25 305.88L497.5 305.88L497.5 305.76L497.75 305.76L497.75 305.63L498 305.63L498 305.26L498.25 305.26L498.25 305.14L498.5 305.14L498.5 305.01L498.75 305.01L498.75 304.89L499 304.89L499 304.76L499.25 304.76L499.25 304.64L499.5 304.64L499.5 304.51L499.75 304.51L499.75 304.39L500 304.39L500 304.75L500.25 304.75L500.25 304.62L500.5 304.62L500.5 304.5L500.75 304.5L500.75 304.37L501 304.37L501 304.29L501.25 304.29L501.25 303.86L501.5 303.86L501.5 303.44L501.75 303.44L501.75 303.01L502 303.01L502 298.34L502.25 298.34L502.25 297.92L502.5 297.92L502.5 297.49L502.75 297.49L502.75 297.07L503 297.07L503 296.64L503.25 296.64L503.25 296.49L503.5 296.49L503.5 300.89L503.75 300.89L503.75 300.74L504 300.74L504 300.59L504.25 300.59L504.25 300.44L504.5 300.44L504.5 300.29L504.75 300.29L504.75 289.4L506.5 289.4L506.5 300.04L506.75 300.04L506.75 299.85L507 299.85L507 297.37L507.25 297.37L507.25 297.19L507.5 297.19L507.5 297.01L507.75 297.01L507.75 296.83L508 296.83L508 296.61L508.25 296.61L508.25 296.25L508.5 296.25L508.5 295.89L508.75 295.89L508.75 295.54L509 295.54L509 295.18L509.25 295.18L509.25 294.82L509.5 294.82L509.5 294.86L509.75 294.86L509.75 295.48L510 295.48L510 296.11L510.25 296.11L510.25 296.74L510.5 296.74L510.5 297.36L510.75 297.36L510.75 297.99L511 297.99L511 298.61L511.25 298.61L511.25 298.79L511.5 298.79L511.5 298.23L511.75 298.23L511.75 298.41L512 298.41L512 298.59L512.25 298.59L512.25 298.77L512.5 298.77L512.5 299.55L513 299.55L513 284L514.75 284L514.75 300.44L515 300.44L515 302.19L515.25 302.19L515.25 303.94L515.5 303.94L515.5 305.69L515.75 305.69L515.75 306.39L516.5 306.39L516.5 295.39L516.75 295.39L516.75 286.34L517 286.34L517 286.48L517.25 286.48L517.25 286.61L517.5 286.61L517.5 286.75L517.75 286.75L517.75 286.89L518 286.89L518 287.03L518.25 287.03L518.25 286.25L518.5 286.25L518.5 287.84L518.75 287.84L518.75 291.59L519 291.59L519 295.44L519.25 295.44L519.25 299.19L519.5 299.19L519.5 301.31L519.75 301.31L519.75 298.61L520 298.61L520 298.29L520.25 298.29L520.25 297.98L520.5 297.98L520.5 300.68L520.75 300.68L520.75 300.37L521 300.37L521 300.06L521.25 300.06L521.25 297.47L521.5 297.47L521.5 296.58L521.75 296.58L521.75 295.69L522 295.69L522 294.24L522.25 294.24L522.25 293.35L522.5 293.35L522.5 292.98L522.75 292.98L522.75 293.4L523 293.4L523 295.81L523.25 295.81L523.25 296.22L523.5 296.22L523.5 296.64L523.75 296.64L523.75 296.81L524 296.81L524 268.6L525 268.6L525 268.86L526.25 268.86L526.25 283.14L527.5 283.14L527.5 293.43L529 293.43L529 290L530.75 290L530.75 295.71L536 295.71L536 275.71L537 275.71L537 293.43L538.25 293.43L538.25 285.43L540 285.43L540 294.57L543.25 294.57L543.25 276.29L545.75 276.29L545.75 285.43L547.5 285.43L547.5 257.09L549 257.09L549 283.14L550 283.14L550 273.43L551.25 273.43L551.25 284.29L552.5 284.29L552.5 277.43L553.75 277.43L553.75 272.29L555.5 272.29L555.5 276.29L556.25 276.29L556.25 255.14L557.75 255.14L557.75 277.43L559.5 277.43L559.5 274.57L560.25 274.57L560.25 211.6L562 211.6L562 277.43L562.75 277.43L562.75 263.94L564.5 263.94L564.5 274.57L566.25 274.57L566.25 270.57L567.75 270.57L567.75 267.37L569 267.37L569 282.57L570.5 282.57L570.5 244.97L572 244.97L572 256.86L573.75 256.86L573.75 272.86L574.5 272.86L574.5 242L575.75 242L575.75 268.29L578.75 268.29L578.75 259.14L580.5 259.14L580.5 267.14L581.75 267.14L581.75 244.06L582.75 244.06L582.75 267.14L584 267.14L584 256.29L585 256.29L585 269.43L586.75 269.43L586.75 252.06L588.25 252.06L588.25 266L589 266L589 257.43L590.5 257.43L590.5 264.86L592 264.86L592 243.03L595 243.03L595 229.6L596.5 229.6L596.5 238.1L598 238.1L598 259L600.25 259L600.25 243L606.5 243L606.5 231.9L607.75 231.9L607.75 226.1L609.75 226.1L609.75 231.9L611 231.9L611 248.7L612.25 248.7L612.25 225.6L614.5 225.6L614.5 262L618 262L618 256.7L621.5 256.7L621.5 231.3L623 231.3L623 246.4L624.5 246.4L624.5 229L625.25 229L625.25 212.4L627 212.4L627 246.4L628.25 246.4L628.25 228.2L630 228.2L630 240L631.75 240L631.75 229L633.5 229L633.5 241.6L634.5 241.6L634.5 237.6L635.25 237.6L635.25 254L636.25 254L636.25 180.6L638 180.6L638 222.1L640.75 222.1L640.75 187L642.5 187L642.5 173.6L644.25 173.6L644.25 204L646 204L646 240L647.5 240L647.5 173L649.5 173L649.5 226.7L651 226.7L651 229L652.25 229L652.25 248L654 248L654 222.1L655.5 222.1L655.5 218.7L657.5 218.7L657.5 240L658.5 240L658.5 232L659.25 232L659.25 192L660.75 192L660.75 182.4L662.25 182.4L662.25 238.1L663.25 238.1L663.25 190.4L665 190.4L665 209L668.9 209L668.9 335.1Z" fill="#1f77b4"/>
<path d="M501.8 161.5L632.6 267.93L632.6 335.1L412.7 212.2" fill="none" stroke="#8a8a8a" stroke-opacity="0.62" stroke-width="0.8"/>
<rect x="395.0" y="131.1" width="297" height="204" fill="none" stroke="#000" stroke-width="1.2"/>
<rect x="412.7" y="161.5" width="89.1" height="50.7" fill="#fff"/>
<clipPath id="cd1"><rect x="412.7" y="161.5" width="89.1" height="51.7"/></clipPath>
<g clip-path="url(#cd1)">
<path d="M412.7 210.28L414.93 181.79L417.15 196.99L419.38 212.2L421.61 192.95L423.84 212.2L426.06 195.07L428.29 212.2L430.52 212.2L432.75 180.63L434.98 194.49L437.2 202.19L439.43 204.12L441.66 212.2L443.88 204.89L446.11 203.11L448.34 202.96L450.57 196.03L452.8 195.42L455.02 212.2L457.25 184.25L459.48 198.73L461.7 212.2L463.93 174.86L466.16 192.95L468.39 212.2L470.62 199.69L472.84 203.11L475.07 212.2L477.3 212.2L479.52 172.16L481.75 187.18L483.98 202.19L486.21 193.72L488.44 201.92L490.66 204.89L492.89 212.2L495.12 171.39L497.35 185.25L499.57 198.73L501.8 212.2" fill="none" stroke="#1f77b4" stroke-width="1.5" stroke-linejoin="round" stroke-linecap="butt"/>
</g>
<line x1="412.7" x2="412.7" y1="212.2" y2="207.8" stroke="#000" stroke-width="1.0"/>
<text x="412.7" y="220.52" font-size="7.0" text-anchor="middle">10</text>
<line x1="434.98" x2="434.98" y1="212.2" y2="207.8" stroke="#000" stroke-width="1.0"/>
<text x="434.98" y="220.52" font-size="7.0" text-anchor="middle">20</text>
<line x1="457.25" x2="457.25" y1="212.2" y2="207.8" stroke="#000" stroke-width="1.0"/>
<text x="457.25" y="220.52" font-size="7.0" text-anchor="middle">30</text>
<line x1="479.52" x2="479.52" y1="212.2" y2="207.8" stroke="#000" stroke-width="1.0"/>
<text x="479.52" y="220.52" font-size="7.0" text-anchor="middle">40</text>
<line x1="501.8" x2="501.8" y1="212.2" y2="207.8" stroke="#000" stroke-width="1.0"/>
<text x="501.8" y="220.52" font-size="7.0" text-anchor="middle">50</text>
<line x1="412.7" x2="417.1" y1="212.2" y2="212.2" stroke="#000" stroke-width="1.0"/>
<text x="410.1" y="215.46" font-size="7.0" text-anchor="end">0</text>
<line x1="412.7" x2="417.1" y1="192.95" y2="192.95" stroke="#000" stroke-width="1.0"/>
<text x="410.1" y="196.21" font-size="7.0" text-anchor="end">5</text>
<line x1="412.7" x2="417.1" y1="173.7" y2="173.7" stroke="#000" stroke-width="1.0"/>
<text x="410.1" y="176.96" font-size="7.0" text-anchor="end">10</text>
<rect x="412.7" y="161.5" width="89.1" height="50.7" fill="none" stroke="#000" stroke-width="1.1"/>
<text x="501.5" y="228.4" font-size="6.1" text-anchor="end">+8e5</text>
<text x="414.5" y="171.1" font-size="10.4" font-weight="bold">(d1)</text>
<text x="187.5" y="13" font-size="17.6" text-anchor="middle">Random Drive</text>
<text x="543.4" y="13" font-size="17.6" text-anchor="middle">Time-dependent Drive</text>
<text transform="translate(25.0,63.0) rotate(-90)" font-size="14.15" text-anchor="middle">Lattice Energy</text>
<text transform="translate(371.2,63.0) rotate(-90)" font-size="14.15" text-anchor="middle">Lattice Energy</text>
<text transform="translate(11,233.1) rotate(-90)" font-size="14.15" text-anchor="middle">Released Energy</text>
<text transform="translate(372.7,233.1) rotate(-90)" font-size="14.15" text-anchor="middle">Released Energy</text>
<text x="187.5" y="359.6" font-size="14.15" text-anchor="middle">Iterations</text>
<text x="543.4" y="361.3" font-size="14.15" text-anchor="middle">Iterations</text>
<text x="38.7" y="15.5" font-size="6.2">1e6</text>
<text x="394.7" y="15.5" font-size="6.2">1e6</text>
<text x="336.3" y="126.5" font-size="6.2" text-anchor="end">1e6</text>
<text x="692.3" y="126.5" font-size="6.2" text-anchor="end">1e6</text>
<text x="336.0" y="352.7" font-size="6.2" text-anchor="end">1e6</text>
<text x="691.8" y="355.2" font-size="6.2" text-anchor="end">1e6</text>
<text x="45" y="29.4" font-size="14" font-weight="bold">(a)</text>
<text x="401" y="29.4" font-size="14" font-weight="bold">(c)</text>
<text x="45" y="145.9" font-size="14" font-weight="bold">(b)</text>
<text x="401" y="145.9" font-size="14" font-weight="bold">(d)</text>
</svg>
</body></html>
